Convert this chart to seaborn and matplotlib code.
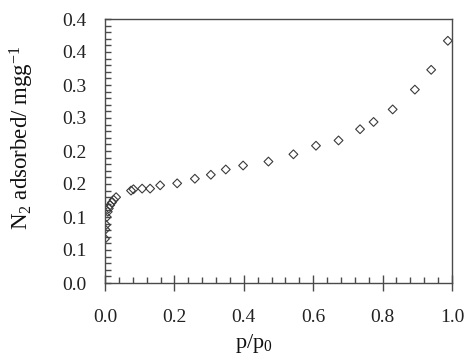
import numpy as np
import pandas as pd
import matplotlib
matplotlib.use("Agg")
import matplotlib.pyplot as plt
import seaborn as sns
from matplotlib.ticker import FixedLocator, MultipleLocator

# Data
p_p0 = [0.000, 0.001, 0.003, 0.005, 0.008, 0.011, 0.015, 0.020, 0.025, 0.032,
        0.075, 0.082, 0.107, 0.130, 0.159, 0.208, 0.259, 0.305, 0.348, 0.398,
        0.471, 0.543, 0.608, 0.673, 0.735, 0.774, 0.829, 0.893, 0.940, 0.988]
adsorbed = [0.067, 0.081, 0.088, 0.100, 0.108, 0.113, 0.118, 0.122, 0.126, 0.130,
            0.140, 0.142, 0.143, 0.143, 0.148, 0.151, 0.158, 0.164, 0.172, 0.178,
            0.184, 0.195, 0.208, 0.216, 0.233, 0.244, 0.263, 0.293, 0.323, 0.367]

x_ticks = [0.0, 0.2, 0.4, 0.6, 0.8, 1.0]
x_tick_labels = ["0.0", "0.2", "0.4", "0.6", "0.8", "1.0"]
y_ticks = [0.0, 0.05, 0.10, 0.15, 0.20, 0.25, 0.30, 0.35, 0.40]
y_tick_labels = ["0.0", "0.1", "0.1", "0.2", "0.2", "0.3", "0.3", "0.4", "0.4"]

df = pd.DataFrame({"p": p_p0, "n": adsorbed})

sns.set_theme(style="white")
plt.rcParams["font.family"] = ["Liberation Serif", "DejaVu Serif"]
plt.rcParams["mathtext.fontset"] = "custom"
plt.rcParams["mathtext.rm"] = "Liberation Serif"
plt.rcParams["mathtext.it"] = "Liberation Serif:italic"

fig = plt.figure(figsize=(4.74, 3.62), dpi=100)
ax = fig.add_axes([105 / 474, 1 - 283 / 362, (452 - 105) / 474, (283 - 19) / 362])

sns.scatterplot(data=df, x="p", y="n", ax=ax, marker="D", s=20,
                facecolor="none", edgecolor="#3a3a3a", linewidth=0.8, legend=False)

ax.set_xlim(0, 1.0)
ax.set_ylim(0, 0.40)
ax.xaxis.set_major_locator(FixedLocator(x_ticks))
ax.set_xticklabels(x_tick_labels)
ax.yaxis.set_major_locator(FixedLocator(y_ticks))
ax.set_yticklabels(y_tick_labels)
ax.xaxis.set_minor_locator(MultipleLocator(0.04))
ax.yaxis.set_minor_locator(MultipleLocator(0.01))

for s in ax.spines.values():
    s.set_color("#4a4a4a")
    s.set_linewidth(1.0)

ax.tick_params(axis="x", which="major", direction="inout", length=11, width=1,
               color="#4a4a4a", labelsize=14, pad=13, bottom=True)
ax.tick_params(axis="x", which="minor", direction="in", length=4, width=1,
               color="#4a4a4a", bottom=True)
ax.tick_params(axis="y", which="major", direction="in", length=4, width=1,
               color="#4a4a4a", labelsize=14, pad=13, left=True)
ax.tick_params(axis="y", which="minor", direction="in", length=4, width=1,
               color="#4a4a4a", left=True)
for lab in ax.get_xticklabels() + ax.get_yticklabels():
    lab.set_color("#222222")

ax.set_xlabel("p/p$_0$", fontsize=16, color="#111111")
ax.set_ylabel("N$_2$ adsorbed/ mgg$^{-1}$", fontsize=16.5, color="#111111")
ax.xaxis.set_label_coords(0.43, -0.185)
ax.yaxis.set_label_coords(-0.2, 0.55)

fig.savefig("out.png", dpi=100)
